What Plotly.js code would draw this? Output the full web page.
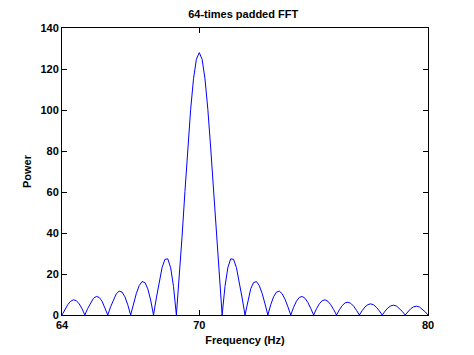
<!DOCTYPE html>
<html>
<head>
<meta charset="utf-8">
<script src="https://cdn.plot.ly/plotly-3.0.1.min.js"></script>
<style>html,body{margin:0;padding:0;background:#fff;}#chart{width:474px;height:355px;}</style>
</head>
<body>
<div id="chart"></div>
<script>
var chartTitle = '64-times padded FFT';
var xLabel = 'Frequency (Hz)';
var yLabel = 'Power';
var xTicks = [64, 70, 80];
var yTicks = [0, 20, 40, 60, 80, 100, 120, 140];

var frequency = [
  64, 64.125, 64.25, 64.375, 64.5, 64.625, 64.75, 64.875,
  65, 65.125, 65.25, 65.375, 65.5, 65.625, 65.75, 65.875,
  66, 66.125, 66.25, 66.375, 66.5, 66.625, 66.75, 66.875,
  67, 67.125, 67.25, 67.375, 67.5, 67.625, 67.75, 67.875,
  68, 68.125, 68.25, 68.375, 68.5, 68.625, 68.75, 68.875,
  69, 69.125, 69.25, 69.375, 69.5, 69.625, 69.75, 69.875,
  70, 70.125, 70.25, 70.375, 70.5, 70.625, 70.75, 70.875,
  71, 71.125, 71.25, 71.375, 71.5, 71.625, 71.75, 71.875,
  72, 72.125, 72.25, 72.375, 72.5, 72.625, 72.75, 72.875,
  73, 73.125, 73.25, 73.375, 73.5, 73.625, 73.75, 73.875,
  74, 74.125, 74.25, 74.375, 74.5, 74.625, 74.75, 74.875,
  75, 75.125, 75.25, 75.375, 75.5, 75.625, 75.75, 75.875,
  76, 76.125, 76.25, 76.375, 76.5, 76.625, 76.75, 76.875,
  77, 77.125, 77.25, 77.375, 77.5, 77.625, 77.75, 77.875,
  78, 78.125, 78.25, 78.375, 78.5, 78.625, 78.75, 78.875,
  79, 79.125, 79.25, 79.375, 79.5, 79.625, 79.75, 79.875,
  80
];

var power = [
  0, 2.65, 5.01, 6.69, 7.41, 7.00, 5.49, 3.04,
  0, 3.20, 6.07, 8.14, 9.05, 8.60, 6.78, 3.78,
  0, 4.02, 7.68, 10.38, 11.64, 11.15, 8.86, 4.99,
  0, 5.42, 10.48, 14.34, 16.30, 15.85, 12.80, 7.34,
  0, 8.32, 16.46, 23.16, 27.16, 27.38, 23.05, 13.86,
  0, 17.82, 38.41, 60.23, 81.49, 100.38, 115.24, 124.74,
  128, 124.74, 115.24, 100.38, 81.49, 60.23, 38.41, 17.82,
  0, 13.86, 23.05, 27.38, 27.16, 23.16, 16.46, 8.32,
  0, 7.34, 12.80, 15.85, 16.30, 14.34, 10.48, 5.42,
  0, 4.99, 8.86, 11.15, 11.64, 10.38, 7.68, 4.02,
  0, 3.78, 6.78, 8.60, 9.05, 8.14, 6.07, 3.20,
  0, 3.04, 5.49, 7.00, 7.41, 6.69, 5.01, 2.65,
  0, 2.55, 4.61, 5.90, 6.27, 5.68, 4.27, 2.27,
  0, 2.19, 3.97, 5.10, 5.43, 4.94, 3.72, 1.98,
  0, 1.92, 3.49, 4.49, 4.79, 4.36, 3.29, 1.76,
  0, 1.71, 3.11, 4.02, 4.29, 3.91, 2.95, 1.58,
  0
];

var font = {family: 'Liberation Sans, Arial, sans-serif', size: 11, color: '#000', weight: 'bold'};

var trace = {
  x: frequency,
  y: power,
  type: 'scatter',
  mode: 'lines',
  line: {color: '#0000ff', width: 1},
  hoverinfo: 'skip'
};

var axisCommon = {
  showgrid: false,
  zeroline: false,
  showline: true,
  linecolor: '#000',
  linewidth: 1,
  mirror: 'ticks',
  ticks: 'inside',
  ticklen: 5,
  tickcolor: '#000',
  tickwidth: 1,
  tickfont: font,
  tickmode: 'array'
};

var layout = {
  width: 474,
  height: 355,
  margin: {l: 62, r: 46, t: 28, b: 40},
  paper_bgcolor: '#fff',
  plot_bgcolor: '#fff',
  showlegend: false,
  title: {text: chartTitle, font: font, x: 0.513, xanchor: 'center', y: 0.96, yanchor: 'middle'},
  xaxis: Object.assign({}, axisCommon, {
    range: [64, 80],
    tickvals: xTicks,
    ticktext: xTicks.map(String),
    title: {text: xLabel, font: font, standoff: 6}
  }),
  yaxis: Object.assign({}, axisCommon, {
    range: [0, 140],
    tickvals: yTicks,
    ticktext: yTicks.map(String),
    title: {text: yLabel, font: font, standoff: 6}
  })
};

Plotly.newPlot('chart', [trace], layout, {staticPlot: true, displayModeBar: false});
</script>
</body>
</html>
